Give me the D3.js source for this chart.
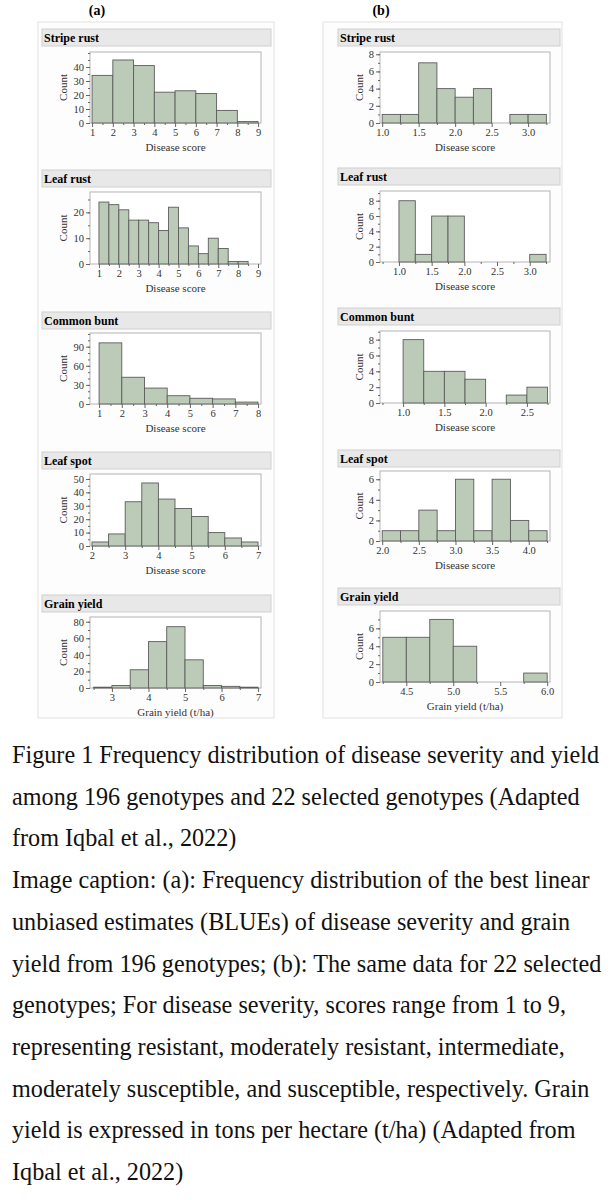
<!DOCTYPE html>
<html>
<head>
<meta charset="utf-8">
<script src="https://cdn.jsdelivr.net/npm/d3@7"></script>
<style>
  body { margin: 0; background: #fff; }
  svg { display: block; }
  .tick text { font-family: "Liberation Serif", serif; font-size: 10.5px; fill: #333; }
  .tick line { stroke: #666; }
</style>
</head>
<body>
<div id="chart"></div>
<script>
// counts per bin
const stripeRustA = [34, 45, 41, 22, 23, 21, 9, 1];
const leafRustA = [24, 23, 21, 17, 17, 16, 13, 22, 14, 7, 4, 10, 6, 1, 1];
const commonBuntA = [96, 42, 25, 13, 9, 8, 3];
const leafSpotA = [3, 9, 33, 47, 35, 28, 22, 10, 6, 3];
const grainYieldA = [1, 3, 22, 56, 74, 34, 3, 2, 1];

const stripeRustB = [1, 1, 7, 4, 3, 4, 0, 1, 1];
const leafRustB = [8, 1, 6, 6, 0, 0, 0, 0, 1];
const commonBuntB = [8, 4, 4, 3, 0, 1, 2];
const leafSpotB = [1, 1, 3, 1, 6, 1, 6, 2, 1];
const grainYieldB = [5, 5, 7, 4, 0, 0, 1];

// tick labels
const ticks1to9 = [1, 2, 3, 4, 5, 6, 7, 8, 9];
const ticks1to8 = [1, 2, 3, 4, 5, 6, 7, 8];
const ticks2to7 = [2, 3, 4, 5, 6, 7];
const ticks3to7 = [3, 4, 5, 6, 7];
const ticksSR_B = [1.0, 1.5, 2.0, 2.5, 3.0];
const ticksCB_B = [1.0, 1.5, 2.0, 2.5];
const ticksLS_B = [2.0, 2.5, 3.0, 3.5, 4.0];
const ticksGY_B = [4.5, 5.0, 5.5, 6.0];

const captionLines = [
  'Figure 1 Frequency distribution of disease severity and yield',
  'among 196 genotypes and 22 selected genotypes (Adapted',
  'from Iqbal et al., 2022)',
  'Image caption: (a): Frequency distribution of the best linear',
  'unbiased estimates (BLUEs) of disease severity and grain',
  'yield from 196 genotypes; (b): The same data for 22 selected',
  'genotypes; For disease severity, scores range from 1 to 9,',
  'representing resistant, moderately resistant, intermediate,',
  'moderately susceptible, and susceptible, respectively. Grain',
  'yield is expressed in tons per hectare (t/ha) (Adapted from',
  'Iqbal et al., 2022)'
];

const W = 611, H = 1200;
const FONT = '"Liberation Serif", "Times New Roman", serif';
const BAR_FILL = '#bccbb8';
const BAR_STROKE = '#5c5c5c';

const cols = [
  { label: '(a)', labelX: 97, boxX0: 38, boxX1: 274, barX0: 42, barX1: 271, fx0: 90, fx1: 261, countX: 63 },
  { label: '(b)', labelX: 381, boxX0: 323, boxX1: 562, barX0: 338, barX1: 560, fx0: 380, fx1: 550, countX: 359 }
];

const panels = [
  { col: 0, title: 'Stripe rust', counts: stripeRustA, start: 1, bin: 1, xDom: [0.9, 9.14], yTop: 50.7,
    xTicks: ticks1to9, yTicks: [0, 10, 20, 30, 40], yMinor: 5, fmt: d3.format('d'), bar: 29, top: 52, bottom: 123 },
  { col: 0, title: 'Leaf rust', counts: leafRustA, start: 1, bin: 0.5, xDom: [0.55, 9.15], yTop: 27.9,
    xTicks: ticks1to9, yTicks: [0, 10, 20], yMinor: 5, fmt: d3.format('d'), bar: 170, top: 192, bottom: 264 },
  { col: 0, title: 'Common bunt', counts: commonBuntA, start: 1, bin: 1, xDom: [0.6, 8.13], yTop: 111.5,
    xTicks: ticks1to8, yTicks: [0, 30, 60, 90], yMinor: 10, fmt: d3.format('d'), bar: 312, top: 333, bottom: 404 },
  { col: 0, title: 'Leaf spot', counts: leafSpotA, start: 2, bin: 0.5, xDom: [1.94, 7.09], yTop: 53.7,
    xTicks: ticks2to7, yTicks: [0, 10, 20, 30, 40, 50], yMinor: 5, fmt: d3.format('d'), bar: 452, top: 474, bottom: 546 },
  { col: 0, title: 'Grain yield', counts: grainYieldA, start: 2.5, bin: 0.5, xDom: [2.4, 7.08], yTop: 85.7,
    xTicks: ticks3to7, yTicks: [0, 20, 40, 60, 80], yMinor: 10, fmt: d3.format('d'), bar: 595, top: 617, bottom: 688,
    xLabel: 'Grain yield (t/ha)' },

  { col: 1, title: 'Stripe rust', counts: stripeRustB, start: 1, bin: 0.25, xDom: [0.97, 3.3], yTop: 8.26,
    xTicks: ticksSR_B, yTicks: [0, 2, 4, 6, 8], yMinor: 1, fmt: d3.format('.1f'), bar: 29, top: 52, bottom: 123 },
  { col: 1, title: 'Leaf rust', counts: leafRustB, start: 1, bin: 0.25, xDom: [0.71, 3.31], yTop: 9.27,
    xTicks: ticksSR_B, yTicks: [0, 2, 4, 6, 8], yMinor: 1, fmt: d3.format('.1f'), bar: 168, top: 191, bottom: 262 },
  { col: 1, title: 'Common bunt', counts: commonBuntB, start: 1, bin: 0.25, xDom: [0.72, 2.78], yTop: 9.09,
    xTicks: ticksCB_B, yTicks: [0, 2, 4, 6, 8], yMinor: 1, fmt: d3.format('.1f'), bar: 308, top: 331, bottom: 403 },
  { col: 1, title: 'Leaf spot', counts: leafSpotB, start: 2, bin: 0.25, xDom: [1.97, 4.29], yTop: 6.8,
    xTicks: ticksLS_B, yTicks: [0, 2, 4, 6], yMinor: 1, fmt: d3.format('.1f'), bar: 450, top: 471, bottom: 541 },
  { col: 1, title: 'Grain yield', counts: grainYieldB, start: 4.25, bin: 0.25, xDom: [4.22, 6.03], yTop: 7.94,
    xTicks: ticksGY_B, yTicks: [0, 2, 4, 6], yMinor: 1, fmt: d3.format('.1f'), bar: 588, top: 611, bottom: 682,
    xLabel: 'Grain yield (t/ha)' }
];

const svg = d3.select('#chart').append('svg')
  .attr('width', W)
  .attr('height', H)
  .style('font-family', FONT);

// column headers and the faint box behind each column
cols.forEach(c => {
  svg.append('rect')
    .attr('x', c.boxX0).attr('y', 22)
    .attr('width', c.boxX1 - c.boxX0).attr('height', 696)
    .attr('fill', '#fdfdfd').attr('stroke', '#e2e2e2');
  svg.append('text')
    .attr('x', c.labelX).attr('y', 15)
    .attr('text-anchor', 'middle')
    .style('font-size', '14px').style('font-weight', 'bold')
    .text(c.label);
});

panels.forEach(p => {
  const c = cols[p.col];
  const g = svg.append('g');

  // title strip
  g.append('rect')
    .attr('x', c.barX0).attr('y', p.bar)
    .attr('width', c.barX1 - c.barX0).attr('height', 17)
    .attr('fill', '#e8e8e8').attr('stroke', '#d0d0d0');
  g.append('text')
    .attr('x', c.barX0 + 2).attr('y', p.bar + 13)
    .style('font-size', '12px').style('font-weight', 'bold')
    .text(p.title);

  const x = d3.scaleLinear().domain(p.xDom).range([c.fx0, c.fx1]);
  const y = d3.scaleLinear().domain([0, p.yTop]).range([p.bottom, p.top]);

  // frame
  g.append('rect')
    .attr('x', c.fx0).attr('y', p.top)
    .attr('width', c.fx1 - c.fx0).attr('height', p.bottom - p.top)
    .attr('fill', '#fff').attr('stroke', '#b4b4b4');

  // bars
  const bins = p.counts.map((n, i) => ({ x0: p.start + i * p.bin, x1: p.start + (i + 1) * p.bin, n }));
  g.selectAll('rect.bar').data(bins.filter(b => b.n > 0)).enter().append('rect')
    .attr('class', 'bar')
    .attr('x', d => x(d.x0))
    .attr('y', d => y(d.n))
    .attr('width', d => x(d.x1) - x(d.x0))
    .attr('height', d => y(0) - y(d.n))
    .attr('fill', BAR_FILL)
    .attr('stroke', BAR_STROKE)
    .attr('stroke-width', 0.9);

  // x axis
  const xStep = p.xTicks[1] - p.xTicks[0];
  const xMinor = d3.range(p.xTicks[0] - xStep / 2, p.xDom[1], xStep).filter(v => v > p.xDom[0]);
  g.append('g').attr('transform', `translate(0,${p.bottom})`)
    .call(d3.axisBottom(x).tickValues(xMinor).tickSize(2).tickFormat(''))
    .call(a => a.select('.domain').remove());
  g.append('g').attr('transform', `translate(0,${p.bottom})`)
    .call(d3.axisBottom(x).tickValues(p.xTicks).tickSize(4).tickPadding(2).tickFormat(p.fmt))
    .call(a => a.select('.domain').remove());

  // y axis
  const yMinor = d3.range(0, p.yTop, p.yMinor);
  g.append('g').attr('transform', `translate(${c.fx0},0)`)
    .call(d3.axisLeft(y).tickValues(yMinor).tickSize(2).tickFormat(''))
    .call(a => a.select('.domain').remove());
  g.append('g').attr('transform', `translate(${c.fx0},0)`)
    .call(d3.axisLeft(y).tickValues(p.yTicks).tickSize(4).tickPadding(2).tickFormat(d3.format('d')))
    .call(a => a.select('.domain').remove());

  // axis titles
  g.append('text')
    .attr('x', (c.fx0 + c.fx1) / 2).attr('y', p.bottom + 28)
    .attr('text-anchor', 'middle')
    .style('font-size', '11px').attr('fill', '#333')
    .text(p.xLabel || 'Disease score');
  g.append('text')
    .attr('transform', `translate(${c.countX + 4},${(p.top + p.bottom) / 2}) rotate(-90)`)
    .attr('text-anchor', 'middle')
    .style('font-size', '11px').attr('fill', '#333')
    .text('Count');
});

// caption
svg.append('g').selectAll('text').data(captionLines).enter().append('text')
  .attr('x', 12)
  .attr('y', (d, i) => 763 + i * 41.7)
  .style('font-size', '24.2px')
  .attr('fill', '#111')
  .text(d => d);
</script>
</body>
</html>
